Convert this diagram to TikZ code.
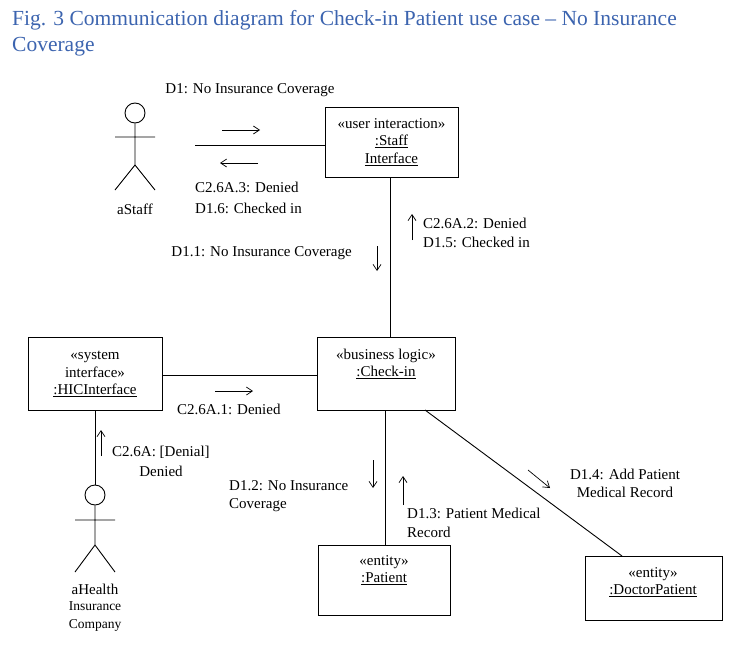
\documentclass[tikz,border=0pt]{standalone}
\usepackage{fontspec}
\setmainfont{Liberation Serif}
\usetikzlibrary{arrows.meta}
\begin{document}
\begin{tikzpicture}[x=1pt,y=-1pt,
  box/.style={draw,line width=0.9pt},
  lab/.style={font=\fontsize{15}{17.5}\selectfont,inner sep=0pt},
  arr/.style={-{Straight Barb[length=6pt,width=8pt]},line width=0.7pt},
  ln/.style={line width=0.9pt}]
\useasboundingbox (0,0) rectangle (735,645);
\definecolor{ttl}{RGB}{60,100,175}
\node[anchor=west,text=ttl,font=\fontsize{21.5}{24}\selectfont,inner sep=0pt] (t1) at (12,20) {Fig. 3 Communication diagram for Check-in Patient use case -- No Insurance};
\node[anchor=west,text=ttl,font=\fontsize{21.5}{24}\selectfont,inner sep=0pt] (t2) at (12,47) {Coverage};
% boxes
\path[box] (325,107) rectangle (458,177);
\node[lab,align=center] (staff) at (391.5,142) {«user interaction»\\\underline{:Staff}\\\underline{Interface}};
\coordinate (staffB) at (390,177); \coordinate (staffL) at (325,145);
\path[box] (317,337) rectangle (455,410);
\node[lab,align=center] (chk) at (386,364) {«business logic»\\\underline{:Check-in}};
\coordinate (chkT) at (390,337); \coordinate (chkB) at (385,410); \coordinate (chkL) at (317,375); \coordinate (chkD) at (425,410);
\path[box] (28,337) rectangle (162,410);
\node[lab,align=center] (hic) at (95,374) {«system\\interface»\\\underline{:HICInterface}};
\coordinate (hicR) at (162,375); \coordinate (hicB) at (95,410);
\path[box] (318,545) rectangle (450,615);
\node[lab,align=center] (pat) at (384,570) {«entity»\\\underline{:Patient}};
\coordinate (patT) at (385,545);
\path[box] (585,556) rectangle (722,620);
\node[lab,align=center] (doc) at (653,582) {«entity»\\\underline{:DoctorPatient}};
\coordinate (docT) at (622,556);
% actors
\node[draw,circle,minimum size=20pt,inner sep=0pt,line width=0.9pt] (a1) at (135,113) {};
\draw[ln] (a1.south) -- (135,165) coordinate (a1h) (115,137) -- (155,137) (115,190) -- (a1h) -- (155,190);
\node[lab] (a1l) at (135,209) {aStaff};
\node[draw,circle,minimum size=20pt,inner sep=0pt,line width=0.9pt] (a2) at (95,495) {};
\draw[ln] (a2.south) -- (95,545) coordinate (a2h) (75,520) -- (115,520) (75,572) -- (a2h) -- (115,572);
\node[lab,align=center] (a2l) at (95,589) {aHealth};
\node[lab,align=center,font=\fontsize{13.5}{18}\selectfont] (a2m) at (95,617) {Insurance\\Company};
% links
\coordinate (s1) at (195,145);
\draw[ln] (s1) -- (staffL);
\draw[ln] (staffB) -- (chkT);
\draw[ln] (hicR) -- (chkL);
\draw[ln] (hicB) -- (a2.north);
\draw[ln] (chkB) -- (patT);
\draw[ln] (chkD) -- (docT);
% message arrows
\draw[arr] (222,130) -- (260,130);
\draw[arr] (258,163) -- (220,163);
\draw[arr] (412,240) -- (412,214);
\draw[arr] (377,246) -- (377,271);
\draw[arr] (215,391) -- (253,391);
\draw[arr] (101,456) -- (101,430);
\draw[arr] (373,460) -- (373,488);
\draw[arr] (403,505) -- (403,476);
\draw[arr] (528,470) -- (550,488);
% labels
\node[lab] (m1) at (250,90) {D1: No Insurance Coverage};
\node[lab,anchor=west] (m2) at (195,187) {C2.6A.3: Denied};
\node[lab,anchor=west] (m3) at (195,208) {D1.6: Checked in};
\node[lab,anchor=west] (m4) at (423,223) {C2.6A.2: Denied};
\node[lab,anchor=west] (m5) at (423,242) {D1.5: Checked in};
\node[lab,anchor=east] (m6) at (352,253) {D1.1: No Insurance Coverage};
\node[lab,anchor=west] (m7) at (177,409) {C2.6A.1: Denied};
\node[lab,anchor=west] (m8) at (112,452) {C2.6A: [Denial]};
\node[lab] (m9) at (161,471) {Denied};
\node[lab,anchor=west] (m10) at (229,486) {D1.2: No Insurance};
\node[lab,anchor=west] (m11) at (229,505) {Coverage};
\node[lab,anchor=west] (m12) at (407,513) {D1.3: Patient Medical};
\node[lab,anchor=west] (m13) at (407,532) {Record};
\node[lab] (m14) at (625,474) {D1.4: Add Patient};
\node[lab] (m15) at (625,492) {Medical Record};
\end{tikzpicture}
\end{document}
